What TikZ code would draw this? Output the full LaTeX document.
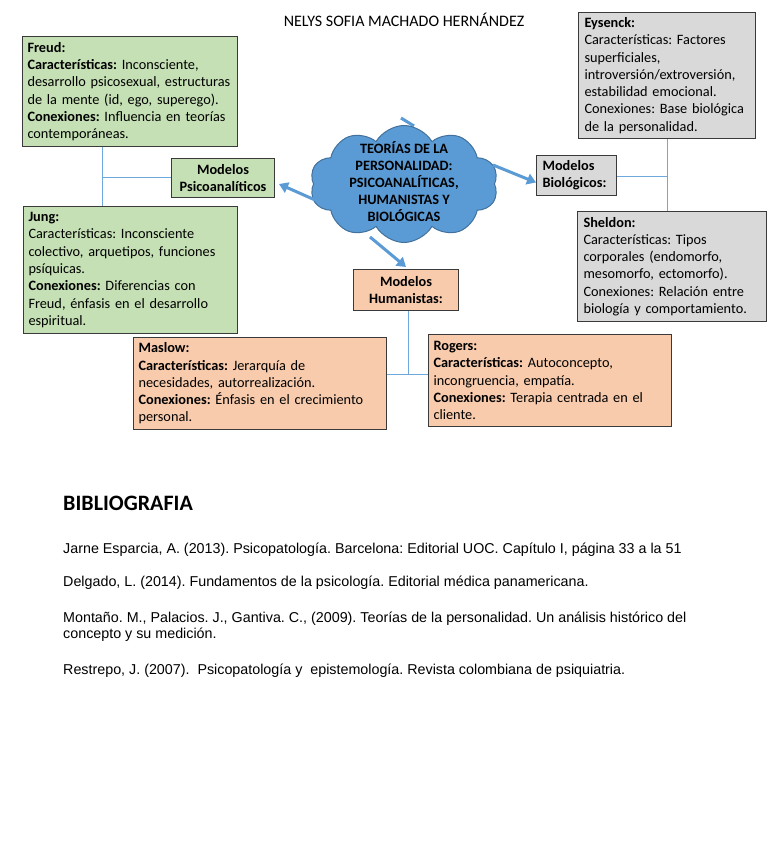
\documentclass[tikz,border=0pt]{standalone}
\usepackage{fontspec}
\setmainfont{Carlito}
\newfontfamily\bibfont{Liberation Sans}
\usetikzlibrary{shapes.symbols,arrows.meta,calc}

\definecolor{greenfill}{HTML}{C5E0B4}
\definecolor{grayfill}{HTML}{D9D9D9}
\definecolor{peachfill}{HTML}{F8CBAD}
\definecolor{cloudfill}{HTML}{5B9BD5}
\definecolor{cloudedge}{HTML}{41719C}
\definecolor{boxedge}{HTML}{3A3A3A}
\definecolor{linkblue}{HTML}{6FA8DC}
\definecolor{arrowblue}{HTML}{5B9BD5}

\tikzset{
  box/.style={draw=boxedge, line width=1pt, anchor=north west, inner xsep=5pt, inner ysep=0pt,
    align=left, font=\fontsize{14.3}{17.3}\selectfont},
  modelbox/.style={draw=boxedge, line width=1pt, anchor=north west, inner xsep=5pt, inner ysep=0pt,
    font=\bfseries\fontsize{14.3}{17.3}\selectfont},
  link/.style={draw=linkblue, line width=0.8pt},
  arr/.style={draw=arrowblue, line width=3pt, -{Triangle[length=9pt,width=11pt]}},
  bibline/.style={anchor=base west, inner sep=0pt, font=\bibfont\fontsize{14.3}{16}\selectfont},
}

\begin{document}
\frenchspacing
\begin{tikzpicture}[x=1pt,y=-1pt]
\useasboundingbox (0,0) rectangle (768,866);
\fill[white] (0,0) rectangle (768,866);

% title
\node[font=\fontsize{16}{19}\selectfont] (author) at (404,20) {NELYS SOFIA MACHADO HERNÁNDEZ};

% coordinates for branch lines
\coordinate (pj) at (102,177);
\coordinate (bj) at (667,176);
\coordinate (hj) at (408,374);

% boxes
\node[box, fill=greenfill, text width=205pt, minimum width=215pt, minimum height=110pt] (freud) at (22,36)
 {\textbf{Freud:}\\
  \textbf{Características:} Inconsciente,\\
  desarrollo psicosexual, estructuras\\
  de la mente (id, ego, superego).\\
  \textbf{Conexiones:} Influencia en teorías\\
  contemporáneas.};

\node[box, fill=greenfill, text width=204pt, minimum width=214pt, minimum height=127pt] (jung) at (23,206)
 {\textbf{Jung:}\\
  Características: Inconsciente\\
  colectivo, arquetipos, funciones\\
  psíquicas.\\
  \textbf{Conexiones:} Diferencias con\\
  Freud, énfasis en el desarrollo\\
  espiritual.};

\node[modelbox, fill=greenfill, align=center, text width=93pt, minimum width=103pt, minimum height=39pt] (psico) at (171,158)
 {Modelos\\Psicoanalíticos};

\node[box, fill=grayfill, text width=165pt, minimum width=177pt, minimum height=126pt, inner xsep=6pt] (eysenck) at (578,12)
 {\textbf{Eysenck:}\\
  Características: Factores\\
  superficiales,\\
  introversión/extroversión,\\
  estabilidad emocional.\\
  Conexiones: Base biológica\\
  de la personalidad.};

\node[box, fill=grayfill, text width=177pt, minimum width=189pt, minimum height=110pt, inner xsep=6pt] (sheldon) at (577,211)
 {\textbf{Sheldon:}\\
  Características: Tipos\\
  corporales (endomorfo,\\
  mesomorfo, ectomorfo).\\
  Conexiones: Relación entre\\
  biología y comportamiento.};

\node[modelbox, fill=grayfill, align=left, text width=68pt, minimum width=80pt, minimum height=40pt, inner xsep=6pt] (biol) at (536,155)
 {Modelos\\Biológicos:};

\node[modelbox, fill=peachfill, align=center, text width=95pt, minimum width=105pt, minimum height=41pt] (human) at (353,269)
 {Modelos\\Humanistas:};

\node[box, fill=peachfill, text width=243pt, minimum width=253pt, minimum height=92pt] (maslow) at (133,337)
 {\textbf{Maslow:}\\
  \textbf{Características:} Jerarquía de\\
  necesidades, autorrealización.\\
  \textbf{Conexiones:} Énfasis en el crecimiento\\
  personal.};

\node[box, fill=peachfill, text width=233pt, minimum width=243pt, minimum height=92pt] (rogers) at (428,334)
 {\textbf{Rogers:}\\
  \textbf{Características:} Autoconcepto,\\
  incongruencia, empatía.\\
  \textbf{Conexiones:} Terapia centrada en el\\
  cliente.};

% branch lines
\draw[link] (freud.south -| pj) -- (jung.north -| pj);
\draw[link] (pj) -- (psico.west |- pj);
\draw[link] (eysenck.south -| bj) -- (sheldon.north -| bj);
\draw[link] (biol.east |- bj) -- (bj);
\draw[link] (human.south -| hj) -- (hj);
\draw[link] (maslow.east |- hj) -- (rogers.west |- hj);

% cloud
\coordinate (cc) at (404,184);
\draw[draw=arrowblue, line width=3pt] ($(cc)+(-3,-66)$) -- ($(cc)+(10,-58)$);
\node[cloud, cloud puffs=10, cloud puff arc=120, aspect=1.6, draw=cloudedge, fill=cloudfill, line width=1pt,
      minimum width=188pt, minimum height=117pt] (cloud) at (cc) {};
\node[font=\bfseries\fontsize{14.3}{17}\selectfont, align=center, inner sep=0pt] (cloudtxt) at (404,182)
 {TEORÍAS DE LA\\PERSONALIDAD:\\PSICOANALÍTICAS,\\HUMANISTAS Y\\BIOLÓGICAS};

% arrows
\draw[arr] ($(cc)+(-89,16)$) -- ($(psico.east)+(4,6)$);
\draw[arr] ($(cc)+(89,-19)$) -- ($(biol.west)+(0,7)$);
\draw[arr] ($(cc)+(-34,53)$) -- ($(human.north)+(0,-2)$);

% bibliography
\node[anchor=base west, inner sep=0pt, font=\bfseries\fontsize{22}{26}\selectfont] (bibtitle) at (63,510) {BIBLIOGRAFIA};
\node[bibline] (b1) at (63,553) {Jarne Esparcia, A. (2013). Psicopatología. Barcelona: Editorial UOC. Capítulo I, página 33 a la 51};
\node[bibline] (b2) at (63,586) {Delgado, L. (2014). Fundamentos de la psicología. Editorial médica panamericana.};
\node[bibline] (b3a) at (63,622) {Montaño. M., Palacios. J., Gantiva. C., (2009). Teorías de la personalidad. Un análisis histórico del};
\node[bibline] (b3b) at (63,638) {concepto y su medición.};
\node[bibline] (b4) at (63,674) {Restrepo, J. (2007).\ \ Psicopatología y\ \ epistemología. Revista colombiana de psiquiatria.};
\end{tikzpicture}
\end{document}
